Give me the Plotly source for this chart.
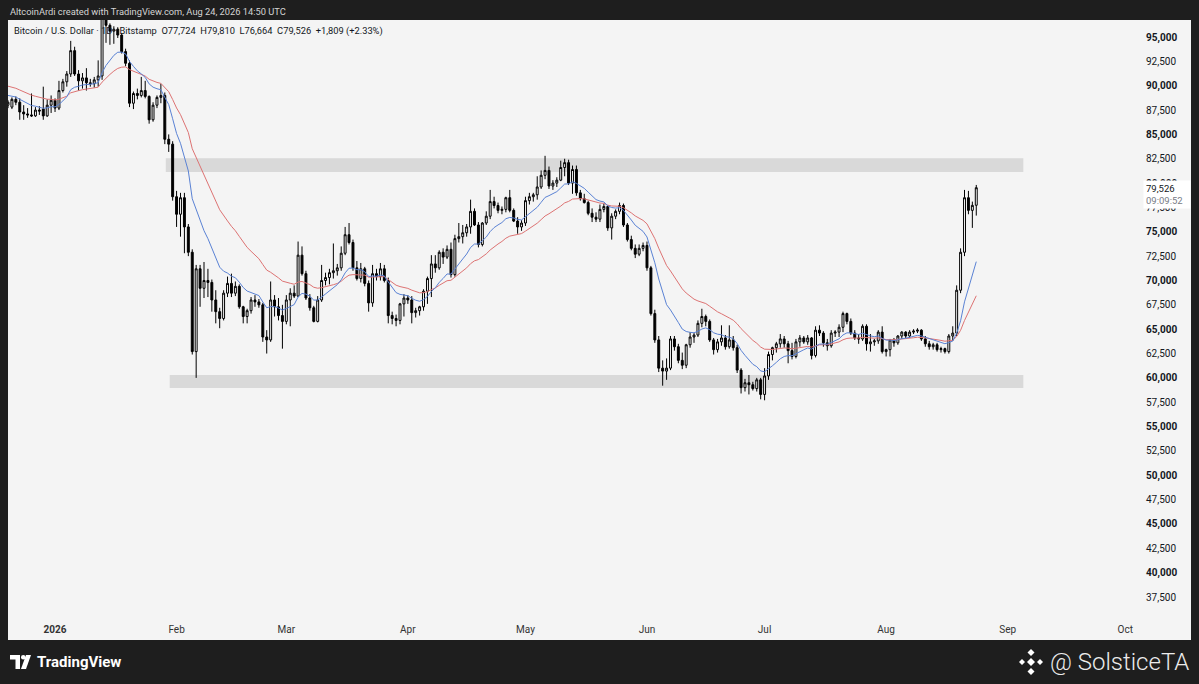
import pandas as pd
import plotly.graph_objects as go

# BTC/USD daily, Bitstamp. values in USD thousands, one line per month
dates = pd.date_range("2025-12-20", "2026-08-24", freq="D")

opens_k = [
    88.0, 87.8, 88.6, 88.3, 87.3, 87.1, 87.0, 86.9, 87.5, 87.6, 86.9, 88.0,
    88.5, 87.7, 89.5, 90.4, 91.2, 93.6, 91.2, 90.5, 90.8, 90.3, 90.2, 90.6, 91.0, 98.6, 96.2, 95.6,
    95.8, 95.2, 93.5, 92.3, 88.2, 89.2, 89.0, 89.5, 88.9, 86.5, 88.0, 88.8, 89.0, 84.5, 84.0,
    78.6, 76.8, 78.5, 75.5, 72.9, 62.7, 71.2, 69.2, 70.0, 69.8, 68.0, 66.8, 66.1, 68.7,
    69.7, 68.7, 69.4, 67.3, 66.3, 66.9, 68.0, 67.8, 67.5, 64.2, 63.9, 68.0, 67.3, 66.4,
    65.8, 68.0, 68.7, 68.4, 72.6, 70.7, 68.2, 67.2, 65.8, 68.0, 70.0, 70.3, 70.8, 71.0, 71.3, 72.8,
    74.7, 73.9, 71.3, 70.2, 71.2, 69.7, 67.7, 70.7, 70.4, 71.2, 70.0, 66.4, 66.1, 65.9, 67.6,
    68.2, 68.0, 66.7, 66.9, 67.3, 68.9, 70.2, 71.7, 71.3, 72.9, 72.4, 73.2, 70.6, 74.3, 74.5,
    74.9, 75.5, 77.1, 75.7, 73.7, 75.9, 76.6, 78.1, 77.7, 77.2, 77.3, 78.5, 77.2, 76.1, 75.5,
    75.9, 78.2, 78.6, 78.8, 79.6, 80.8, 81.3, 79.7, 80.0, 80.3, 81.6, 82.1, 80.0, 81.4, 79.0, 78.4,
    78.0, 76.9, 76.5, 76.3, 77.3, 77.6, 75.4, 76.6, 77.1, 77.7, 75.7, 74.2, 73.3, 72.7, 73.3,
    73.6, 71.3, 66.6, 63.9, 61.0, 60.7, 61.0, 64.0, 63.2, 61.8, 61.3, 63.4, 64.2, 64.4, 65.6,
    66.3, 65.8, 63.9, 62.9, 63.7, 64.1, 63.2, 63.9, 63.1, 60.8, 59.0, 59.5, 59.3, 58.9, 59.8,
    58.3, 60.2, 62.4, 63.1, 63.5, 64.0, 63.5, 62.8, 62.2, 63.7, 64.1, 63.7, 64.1, 62.3, 64.9, 64.6,
    63.6, 63.3, 64.6, 64.7, 65.2, 66.6, 65.8, 64.6, 64.1, 64.0, 65.3, 63.5, 63.7, 63.8, 64.7,
    62.7, 62.9, 63.9, 63.6, 64.3, 64.7, 64.3, 64.7, 64.8, 64.9, 64.0, 63.5, 63.2, 63.4, 62.9, 63.0,
    62.7, 64.3, 64.6, 69.0, 72.9, 78.5, 77.2, 77.724,
]
highs_k = [
    88.5, 88.8, 88.9, 88.7, 88.0, 87.7, 89.2, 87.8, 87.9, 89.9, 88.6, 89.0,
    88.7, 90.5, 90.7, 91.5, 94.6, 94.0, 91.6, 91.3, 91.8, 90.7, 90.9, 92.6, 97.2, 99.0, 96.4, 96.1,
    96.0, 95.4, 93.8, 92.6, 89.4, 89.7, 90.9, 90.5, 89.0, 88.3, 89.0, 90.2, 89.3, 85.0, 84.3,
    79.2, 79.0, 79.0, 75.8, 73.2, 71.6, 71.6, 71.9, 71.2, 70.1, 69.0, 67.2, 69.0, 70.4,
    70.7, 69.9, 69.6, 67.4, 67.1, 68.3, 68.5, 68.1, 67.7, 64.9, 69.9, 68.5, 68.2, 67.5,
    68.5, 69.2, 69.5, 74.0, 73.5, 71.0, 68.6, 67.4, 68.4, 71.6, 70.8, 71.2, 73.8, 71.7, 73.5, 75.5,
    75.9, 74.2, 72.0, 71.8, 71.4, 70.0, 71.6, 71.2, 71.8, 71.6, 70.3, 66.8, 66.5, 67.7, 68.6,
    68.5, 68.4, 67.2, 67.4, 69.1, 70.4, 72.6, 72.6, 73.1, 73.3, 73.6, 73.9, 74.7, 75.9, 75.7,
    75.8, 78.3, 77.4, 76.0, 76.0, 77.1, 79.3, 78.6, 78.0, 77.6, 78.6, 79.3, 77.4, 76.5, 76.2,
    78.6, 79.0, 79.0, 80.7, 81.3, 82.8, 81.7, 80.3, 80.6, 82.3, 82.5, 82.4, 81.8, 81.8, 79.3, 78.9,
    78.2, 77.4, 77.0, 77.8, 77.9, 77.7, 76.9, 77.3, 78.0, 77.9, 75.9, 74.6, 73.7, 73.7, 73.9,
    74.0, 71.5, 67.0, 64.3, 61.8, 62.0, 64.3, 64.3, 63.5, 62.6, 63.5, 64.7, 64.6, 65.9, 67.1,
    66.5, 66.0, 64.1, 64.0, 65.4, 64.4, 65.4, 64.3, 63.4, 61.0, 59.9, 60.3, 59.6, 60.0, 60.0,
    61.0, 62.7, 63.2, 63.7, 64.5, 64.3, 63.8, 63.6, 64.0, 64.4, 64.3, 64.4, 64.2, 65.3, 65.4, 64.8,
    64.0, 64.9, 64.9, 65.5, 66.8, 66.7, 66.1, 64.9, 64.5, 65.5, 65.5, 64.5, 64.0, 64.9, 65.3,
    63.0, 64.0, 64.1, 64.4, 64.8, 64.8, 64.9, 65.0, 65.1, 65.0, 64.3, 63.8, 63.6, 63.6, 63.2, 63.1,
    64.5, 65.3, 69.5, 73.3, 79.3, 79.2, 78.1, 79.81,
]
lows_k = [
    87.7, 87.6, 88.0, 86.5, 86.5, 86.7, 86.8, 86.8, 87.0, 86.5, 86.8, 87.2,
    87.3, 87.5, 89.3, 89.9, 90.9, 91.0, 89.5, 89.7, 89.5, 89.9, 89.8, 89.9, 90.6, 94.4, 94.2, 94.3,
    94.9, 93.3, 92.0, 87.8, 87.6, 88.6, 88.8, 88.7, 86.1, 86.3, 87.7, 88.2, 84.0, 83.2, 78.2,
    75.5, 74.5, 72.8, 72.5, 62.4, 60.0, 67.3, 68.2, 68.3, 66.8, 65.6, 65.1, 65.9, 68.3,
    68.3, 68.4, 67.1, 65.6, 65.6, 66.6, 67.3, 67.2, 63.7, 62.5, 63.7, 66.3, 65.9, 63.0,
    65.5, 65.3, 68.2, 68.3, 70.5, 68.0, 66.9, 65.7, 65.7, 67.8, 69.5, 69.6, 70.2, 70.5, 71.0, 72.6,
    73.7, 71.0, 70.0, 69.8, 69.4, 66.8, 67.3, 70.0, 70.0, 69.8, 65.6, 65.5, 65.3, 65.5, 66.3,
    67.6, 65.6, 66.2, 66.4, 66.9, 67.6, 68.3, 70.8, 71.1, 71.7, 72.2, 70.3, 70.4, 73.9, 73.8,
    74.5, 74.8, 75.6, 73.4, 73.5, 75.7, 76.3, 77.4, 76.9, 76.8, 77.0, 77.0, 76.0, 74.8, 75.1,
    75.6, 77.8, 78.1, 78.3, 79.4, 80.4, 79.4, 79.3, 79.6, 80.2, 80.7, 79.8, 78.9, 78.7, 78.2, 77.9,
    76.7, 76.0, 76.0, 76.0, 77.0, 75.1, 74.2, 76.3, 76.8, 75.5, 74.0, 73.1, 72.3, 72.5, 73.0,
    71.0, 66.4, 63.6, 60.6, 59.2, 59.8, 60.8, 62.8, 61.5, 60.9, 61.0, 63.1, 63.6, 64.2, 65.2,
    65.3, 63.7, 62.4, 62.6, 63.3, 62.9, 63.0, 62.8, 60.5, 58.4, 58.6, 58.3, 58.7, 58.6, 57.8,
    57.7, 59.8, 61.8, 62.6, 63.1, 63.1, 61.5, 61.9, 62.0, 63.2, 63.5, 63.4, 61.9, 62.1, 64.3, 63.2,
    62.8, 63.1, 64.2, 64.2, 64.7, 65.5, 64.4, 63.9, 63.5, 63.8, 62.8, 62.7, 63.3, 63.5, 62.5,
    62.2, 62.2, 63.2, 63.4, 64.0, 64.1, 64.1, 64.5, 64.6, 63.8, 63.2, 62.9, 62.9, 62.7, 62.6, 62.5,
    62.5, 63.8, 64.3, 68.7, 72.5, 76.8, 75.4, 76.664,
]
closes_k = [
    88.3, 88.6, 88.3, 87.3, 87.1, 87.0, 86.9, 87.5, 87.4, 86.9, 88.0, 88.5,
    87.7, 89.5, 90.4, 91.2, 93.6, 91.2, 90.5, 90.8, 90.3, 90.2, 90.6, 91.0, 96.9, 96.2, 95.6, 95.8,
    95.2, 93.5, 92.3, 88.2, 89.2, 89.0, 89.5, 88.9, 86.5, 88.0, 88.8, 89.0, 84.5, 84.0, 78.6,
    76.8, 78.5, 75.5, 72.9, 62.7, 71.2, 69.2, 70.0, 69.8, 68.0, 66.8, 66.1, 68.7, 69.7,
    68.7, 69.4, 67.3, 66.3, 66.9, 68.0, 67.8, 67.5, 64.2, 63.9, 68.0, 67.3, 66.4, 65.8,
    68.0, 68.7, 68.4, 72.6, 70.7, 68.2, 67.2, 65.8, 68.0, 70.0, 70.3, 70.8, 71.0, 71.3, 72.8, 74.7,
    73.9, 71.3, 70.2, 71.2, 69.7, 67.7, 70.7, 70.4, 71.2, 70.0, 66.4, 66.1, 65.9, 67.6, 68.2,
    68.0, 66.7, 66.9, 67.3, 68.9, 70.2, 71.7, 71.3, 72.9, 72.4, 73.2, 70.6, 74.3, 74.5, 74.9,
    75.5, 77.1, 75.7, 73.7, 75.9, 76.6, 78.1, 77.7, 77.2, 77.3, 78.5, 77.2, 76.1, 75.5, 75.9,
    78.2, 78.6, 78.8, 79.6, 80.8, 81.3, 79.7, 80.0, 80.3, 81.6, 82.1, 80.0, 81.4, 79.0, 78.4, 78.0,
    76.9, 76.5, 76.3, 77.3, 77.6, 75.4, 76.6, 77.1, 77.7, 75.7, 74.2, 73.3, 72.7, 73.3, 73.6,
    71.3, 66.6, 63.9, 61.0, 60.7, 61.0, 64.0, 63.2, 61.8, 61.3, 63.4, 64.2, 64.4, 65.6, 66.3,
    65.8, 63.9, 62.9, 63.7, 64.1, 63.2, 63.9, 63.1, 60.8, 59.0, 59.5, 59.3, 58.9, 59.8, 58.3,
    60.2, 62.4, 63.1, 63.5, 64.0, 63.5, 62.8, 62.2, 63.7, 64.1, 63.7, 64.1, 62.3, 64.9, 64.6, 63.6,
    63.3, 64.6, 64.7, 65.2, 66.6, 65.8, 64.6, 64.1, 64.0, 65.3, 63.5, 63.7, 63.8, 64.7, 62.7,
    62.9, 63.9, 63.6, 64.3, 64.7, 64.3, 64.7, 64.8, 64.9, 64.0, 63.5, 63.2, 63.4, 62.9, 63.0, 62.7,
    64.3, 64.6, 69.0, 72.9, 78.5, 77.2, 77.717, 79.526,
]

ema_fast_span, ema_fast_start = 12, 89.0
ema_slow_span, ema_slow_start = 26, 89.95

# grey zones (USD thousands): resistance and support
zone_top = (81.15, 82.55)
zone_bottom = (58.95, 60.30)
zone_top_start, zone_bottom_start, zone_end = "2026-01-29 06:00", "2026-01-30 06:00", "2026-09-05"

y_ticks = [37500, 40000, 42500, 45000, 47500, 50000, 52500, 55000, 57500, 60000, 62500,
           65000, 67500, 70000, 72500, 75000, 77500, 80000, 82500, 85000, 87500, 90000,
           92500, 95000]
x_ticks = ["2026-01-01", "2026-02-01", "2026-03-01", "2026-04-01", "2026-05-01", "2026-06-01",
           "2026-07-01", "2026-08-01", "2026-09-01", "2026-10-01"]
x_labels = ["<b>2026</b>", "Feb", "Mar", "Apr", "May", "Jun", "Jul", "Aug", "Sep", "Oct"]

assert len(dates) == len(opens_k) == len(highs_k) == len(lows_k) == len(closes_k)

opens = [v * 1000 for v in opens_k]
highs = [v * 1000 for v in highs_k]
lows = [v * 1000 for v in lows_k]
closes = [v * 1000 for v in closes_k]


def ema(values, span, start):
    a = 2 / (span + 1)
    out = [start * 1000]
    for v in values[1:]:
        out.append(out[-1] + a * (v - out[-1]))
    return out


W, H = 1199, 684
L, R, T, B = 8, 1137, 20, 620  # plot area in pixels


def px(x):
    return (x - L) / (R - L)


def py(y):
    return (B - y) / (B - T)


DARK = "#1e1e1e"
PANEL = "#f4f4f4"
FONT = "Roboto"

fig = go.Figure()
fig.add_trace(go.Scatter(x=dates, y=ema(closes, ema_slow_span, ema_slow_start), mode="lines",
                         line=dict(color="#dd7373", width=1), hoverinfo="skip"))
fig.add_trace(go.Scatter(x=dates, y=ema(closes, ema_fast_span, ema_fast_start), mode="lines",
                         line=dict(color="#5a82d4", width=1), hoverinfo="skip"))
fig.add_trace(go.Candlestick(
    x=dates, open=opens, high=highs, low=lows, close=closes,
    increasing=dict(line=dict(color="#000000", width=1), fillcolor="#ffffff"),
    decreasing=dict(line=dict(color="#000000", width=1), fillcolor="#000000"),
    whiskerwidth=0, hoverinfo="skip"))

shapes = [
    # light chart panel incl. price scale and time scale
    dict(type="rect", xref="paper", yref="paper", x0=px(8), x1=px(1191), y0=py(640), y1=py(20),
         fillcolor=PANEL, line_width=0, layer="below"),
    dict(type="rect", xref="x", yref="y", x0=zone_top_start, x1=zone_end,
         y0=zone_top[0] * 1000, y1=zone_top[1] * 1000,
         fillcolor="#d9d9d9", line_width=0, layer="below"),
    dict(type="rect", xref="x", yref="y", x0=zone_bottom_start, x1=zone_end,
         y0=zone_bottom[0] * 1000, y1=zone_bottom[1] * 1000,
         fillcolor="#d9d9d9", line_width=0, layer="below"),
]


def poly(points):
    d = "M " + " L ".join(f"{px(a):.5f},{py(b):.5f}" for a, b in points) + " Z"
    return dict(type="path", xref="paper", yref="paper", path=d, fillcolor="#ffffff", line_width=0)


# TradingView logo
shapes.append(poly([(10, 655), (20, 655), (20, 669), (15.5, 669), (15.5, 659.5), (10, 659.5)]))
shapes.append(dict(type="circle", xref="paper", yref="paper", x0=px(21), x1=px(25.5), y0=py(659.5),
                   y1=py(655), fillcolor="#ffffff", line_width=0))
shapes.append(poly([(26, 655), (31, 655), (26, 669), (21, 669)]))

# diamond mark next to the handle
for cx, cy, r in [(1031, 662, 4), (1022, 662, 3), (1040, 662, 3), (1031, 652.5, 3.5), (1031, 671.5, 3.5)]:
    shapes.append(poly([(cx, cy - r), (cx + r, cy), (cx, cy + r), (cx - r, cy)]))

annotations = [
    dict(text="AltcoinArdi created with TradingView.com, Aug 24, 2026 14:50 UTC", x=px(8), y=py(11),
         xref="paper", yref="paper", xanchor="left", yanchor="middle", showarrow=False,
         font=dict(family=FONT, size=9.3, color="#d4d4d4")),
    dict(text="Bitcoin / U.S. Dollar · 1D · Bitstamp  O77,724  H79,810  L76,664  C79,526  +1,809 (+2.33%)",
         x=px(12), y=py(31), xref="paper", yref="paper", xanchor="left", yanchor="middle",
         showarrow=False, font=dict(family=FONT, size=9.3, color="#131722")),
    dict(text="79,526<br><span style='color:#787b86'>09:09:52</span>", x=px(1143), y=py(195),
         xref="paper", yref="paper", xanchor="left", yanchor="middle", align="left", showarrow=False,
         bgcolor="#ffffff", borderpad=2, width=42, font=dict(family=FONT, size=9.5, color="#131722")),
    dict(text="<b>TradingView</b>", x=px(35), y=py(662), xref="paper", yref="paper", xanchor="left",
         yanchor="middle", showarrow=False, font=dict(family=FONT, size=15, color="#ffffff")),
    dict(text="@ SolsticeTA", x=px(1191), y=py(662), xref="paper", yref="paper", xanchor="right",
         yanchor="middle", showarrow=False, font=dict(family=FONT, size=24, color="#ececec", weight=300)),
]

fig.update_layout(
    width=W, height=H, margin=dict(l=L, r=W - R, t=T, b=H - B),
    paper_bgcolor=DARK, plot_bgcolor=PANEL, showlegend=False,
    shapes=shapes, annotations=annotations,
    xaxis=dict(type="date", range=["2025-12-20", "2026-10-04"], rangeslider=dict(visible=False),
               showgrid=False, zeroline=False, showline=False, ticks="",
               tickvals=x_ticks, ticktext=x_labels, ticklabelstandoff=2,
               tickfont=dict(family=FONT, size=10, color="#333333")),
    yaxis=dict(range=[35143, 96745], side="right", showgrid=False, zeroline=False, showline=False,
               ticks="", tickvals=y_ticks,
               ticktext=[(f"<b>{v:,}</b>" if v % 5000 == 0 else f"{v:,}") for v in y_ticks],
               ticklabelstandoff=8, tickfont=dict(family=FONT, size=10, color="#131722")),
)

# page has a default 8px body margin; drop it so the figure sits at the window origin
fig.write_html("out.html", config={"displayModeBar": False},
               post_script="document.body.style.margin='0';"
                           "document.body.style.background='#1e1e1e';")
